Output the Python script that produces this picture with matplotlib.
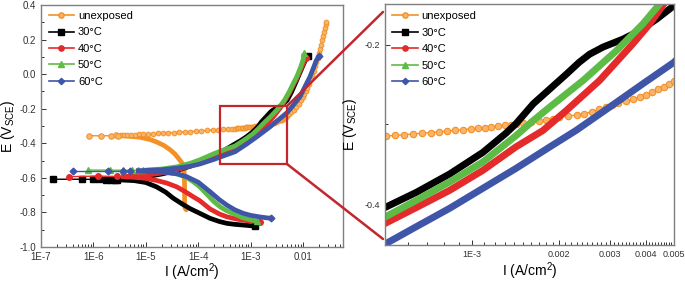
import matplotlib
matplotlib.use("Agg")
import matplotlib.pyplot as plt
from matplotlib.patches import Rectangle, ConnectionPatch
from matplotlib.lines import Line2D
from matplotlib.ticker import FixedLocator, FixedFormatter, NullFormatter, MultipleLocator

plt.rcParams['font.family'] = ['Liberation Sans', 'DejaVu Sans']

# ---------------- data ----------------
labels = ['unexposed', '30\u00b0C', '40\u00b0C', '50\u00b0C', '60\u00b0C']
colors = ['#F39126', '#000000', '#E42A2A', '#5DBB46', '#3E55A8']
markers = ['o', 's', 'o', '^', 'D']

# unexposed
un_sparse_I = [8.4e-7, 1.4e-6, 2.17e-6, 2.7e-6, 3.0e-6]
un_sparse_E = [-0.356, -0.357, -0.356, -0.354, -0.355]
un_cath_I = [3.3e-6, 4.3e-6, 7.7e-6, 1.2e-5, 1.6e-5, 2.2e-5, 2.9e-5, 3.6e-5, 4.2e-5, 4.8e-5,
             5.2e-5, 5.4e-5, 5.5e-5, 5.5e-5, 5.6e-5, 5.9e-5]
un_cath_E = [-0.355, -0.358, -0.365, -0.378, -0.392, -0.412, -0.437, -0.462, -0.487, -0.51,
             -0.53, -0.56, -0.65, -0.74, -0.775, -0.785]
un_anod_I = [3.3e-6, 3.8e-6, 4.4e-6, 5.2e-6, 6.2e-6, 7.5e-6, 9e-6, 1.1e-5, 1.35e-5, 1.7e-5,
             2.1e-5, 2.7e-5, 3.4e-5, 4.3e-5, 5.5e-5, 7e-5, 9e-5, 1.15e-4, 1.5e-4, 1.9e-4,
             2.4e-4, 3e-4, 3.7e-4, 4.4e-4,
             5.05e-4, 5.4e-4, 5.82e-4, 6.25e-4, 6.71e-4, 7.19e-4, 7.69e-4, 8.22e-4, 8.71e-4,
             9.31e-4, 9.9e-4, 1.05e-3, 1.107e-3, 1.166e-3, 1.23e-3, 1.3e-3, 1.36e-3,
             1.42e-3, 1.5e-3, 1.6e-3, 1.7e-3, 1.8e-3, 1.9e-3, 2.0e-3, 2.15e-3, 2.3e-3, 2.45e-3,
             2.6e-3, 2.75e-3, 2.9e-3, 3.05e-3, 3.2e-3, 3.4e-3, 3.6e-3, 3.8e-3, 4.0e-3, 4.2e-3,
             4.4e-3, 4.6e-3, 4.8e-3, 5.0e-3,
             5.5e-3, 6e-3, 6.7e-3, 7.5e-3, 8.3e-3, 9e-3, 9.8e-3, 1.05e-2, 1.12e-2, 1.2e-2,
             1.3e-2, 1.4e-2, 1.5e-2, 1.6e-2, 1.7e-2, 1.8e-2, 1.9e-2, 2.0e-2, 2.1e-2, 2.2e-2,
             2.3e-2, 2.4e-2, 2.5e-2, 2.6e-2, 2.7e-2, 2.75e-2]
un_anod_E = [-0.354, -0.353, -0.352, -0.351, -0.350, -0.349, -0.347, -0.346, -0.345, -0.343,
             -0.342, -0.340, -0.338, -0.336, -0.334, -0.332, -0.330, -0.328, -0.326, -0.324,
             -0.321, -0.319, -0.317, -0.316,
             -0.3145, -0.3137, -0.3128, -0.3119, -0.311, -0.3101, -0.3092, -0.3083, -0.3074,
             -0.3065, -0.3056, -0.3047, -0.3038, -0.3029, -0.302, -0.3011, -0.3002,
             -0.2995, -0.2985, -0.297, -0.2955, -0.294, -0.2925, -0.291, -0.2895, -0.288, -0.2865,
             -0.284, -0.281, -0.278, -0.2755, -0.2735, -0.271, -0.268, -0.2655, -0.263, -0.2595,
             -0.256, -0.2525, -0.249, -0.245,
             -0.233, -0.22, -0.205, -0.19, -0.17, -0.15, -0.13, -0.113, -0.095, -0.078,
             -0.055, -0.03, -0.005, 0.02, 0.045, 0.07, 0.095, 0.12, 0.145, 0.17,
             0.195, 0.22, 0.245, 0.268, 0.29, 0.303]

# 30 C
b_sparse_I = [1.67e-7, 6.1e-7, 9.7e-7, 1.3e-6, 1.72e-6, 2.17e-6, 2.58e-6, 2.86e-6]
b_sparse_E = [-0.608, -0.608, -0.609, -0.609, -0.610, -0.610, -0.611, -0.611]
b_cath_I = [3.2e-6, 6e-6, 1e-5, 1.6e-5, 2.4e-5, 3.35e-5, 5e-5, 7e-5, 1.07e-4, 1.68e-4,
            2.5e-4, 3.5e-4, 5e-4, 7.2e-4, 1e-3, 1.2e-3]
b_cath_E = [-0.612, -0.616, -0.627, -0.652, -0.683, -0.718, -0.752, -0.778, -0.805, -0.834,
            -0.852, -0.863, -0.869, -0.873, -0.877, -0.879]
b_anod_I = [3.2e-6, 6e-6, 1e-5, 2e-5, 4e-5, 7e-5, 1.07e-4, 2e-4, 3.5e-4, 5e-4, 6.42e-4,
            8.37e-4, 1.09e-3, 1.31e-3, 1.42e-3, 1.63e-3, 2.12e-3, 2.35e-3, 2.55e-3, 2.84e-3,
            3.33e-3, 3.8e-3, 4.35e-3, 5e-3, 6e-3, 7e-3, 8.5e-3, 1e-2, 1.15e-2, 1.26e-2]
b_anod_E = [-0.608, -0.602, -0.594, -0.578, -0.557, -0.533, -0.512, -0.472, -0.432, -0.404,
            -0.385, -0.362, -0.335, -0.311, -0.299, -0.274, -0.237, -0.222, -0.212, -0.203,
            -0.193, -0.1825, -0.168, -0.151, -0.105, -0.06, 0.0, 0.05, 0.09, 0.105]

# 40 C
r_sparse_I = [3.46e-7, 1.21e-6, 2.79e-6]
r_sparse_E = [-0.593, -0.590, -0.592]
r_cath_I = [3.4e-6, 6e-6, 1e-5, 1.6e-5, 2.5e-5, 3.9e-5, 6e-5, 8.1e-5, 1.07e-4, 1.68e-4,
            2.5e-4, 3.5e-4, 5e-4, 7.2e-4, 1e-3, 1.5e-3]
r_cath_E = [-0.594, -0.597, -0.603, -0.615, -0.63, -0.652, -0.685, -0.71, -0.732, -0.78,
            -0.808, -0.825, -0.836, -0.845, -0.85, -0.854]
r_anod_I = [3.4e-6, 6e-6, 1e-5, 2e-5, 5e-5, 1e-4, 2e-4, 3.5e-4, 5e-4, 6.42e-4, 8.37e-4,
            1.09e-3, 1.42e-3, 1.76e-3, 2.12e-3, 2.76e-3, 3.6e-3, 4.12e-3, 4.65e-3, 5.5e-3,
            6.5e-3, 7.6e-3, 9e-3, 1.05e-2, 1.12e-2]
r_anod_E = [-0.592, -0.589, -0.585, -0.572, -0.545, -0.515, -0.478, -0.447, -0.424, -0.404,
            -0.3825, -0.3575, -0.328, -0.3075, -0.2825, -0.245, -0.199, -0.174, -0.147, -0.11,
            -0.065, -0.025, 0.025, 0.07, 0.095]

# 50 C
g_sparse_I = [7.8e-7, 2.07e-6, 3.7e-6, 5.4e-6, 7.2e-6, 8.9e-6]
g_sparse_E = [-0.555, -0.555, -0.556, -0.556, -0.556, -0.556]
g_cath_I = [1e-5, 2e-5, 4e-5, 6e-5, 8e-5, 1.07e-4, 1.5e-4, 2e-4, 2.7e-4, 3.5e-4, 5e-4,
            7e-4, 1e-3, 1.3e-3]
g_cath_E = [-0.558, -0.563, -0.578, -0.598, -0.622, -0.652, -0.698, -0.738, -0.77, -0.79,
            -0.81, -0.83, -0.843, -0.85]
g_anod_I = [1e-5, 2e-5, 4e-5, 7e-5, 1.07e-4, 2e-4, 3.5e-4, 5e-4, 6.42e-4, 8.37e-4, 1.09e-3,
            1.42e-3, 1.63e-3, 1.86e-3, 2.42e-3, 3.16e-3, 3.9e-3, 4.46e-3, 5.5e-3, 6.5e-3,
            7.6e-3, 9e-3, 1.01e-2, 1.045e-2]
g_anod_E = [-0.555, -0.549, -0.536, -0.516, -0.496, -0.46, -0.432, -0.416, -0.395, -0.372,
            -0.347, -0.314, -0.295, -0.278, -0.245, -0.2075, -0.174, -0.149, -0.10, -0.055,
            -0.015, 0.04, 0.085, 0.12]

# 60 C
bl_sparse_I = [4e-7, 1.92e-6, 3.6e-6, 5e-6]
bl_sparse_E = [-0.560, -0.560, -0.560, -0.560]
bl_cath_I = [6.5e-6, 1e-5, 2e-5, 4e-5, 6e-5, 1e-4, 1.68e-4, 2.5e-4, 3.5e-4, 5e-4, 7.2e-4,
             1e-3, 1.5e-3, 2e-3, 2.5e-3]
bl_cath_E = [-0.561, -0.563, -0.566, -0.577, -0.593, -0.625, -0.68, -0.725, -0.757, -0.785,
             -0.805, -0.817, -0.826, -0.831, -0.834]
bl_anod_I = [6.5e-6, 1e-5, 2e-5, 4e-5, 7e-5, 1.07e-4, 2e-4, 3.5e-4, 5.05e-4, 6.42e-4, 8.37e-4,
             1.09e-3, 1.42e-3, 1.86e-3, 2.29e-3, 3.0e-3, 3.9e-3, 5e-3, 6.5e-3, 8.8e-3, 1.1e-2,
             1.36e-2, 1.6e-2, 1.8e-2, 2.05e-2]
bl_anod_E = [-0.559, -0.557, -0.553, -0.544, -0.533, -0.52, -0.493, -0.466, -0.449, -0.428,
             -0.405, -0.38, -0.355, -0.328, -0.3075, -0.278, -0.249, -0.222, -0.18, -0.13,
             -0.07, -0.015, 0.04, 0.08, 0.105]

series = [
    (un_sparse_I, un_sparse_E, un_cath_I, un_cath_E, un_anod_I, un_anod_E),
    (b_sparse_I, b_sparse_E, b_cath_I, b_cath_E, b_anod_I, b_anod_E),
    (r_sparse_I, r_sparse_E, r_cath_I, r_cath_E, r_anod_I, r_anod_E),
    (g_sparse_I, g_sparse_E, g_cath_I, g_cath_E, g_anod_I, g_anod_E),
    (bl_sparse_I, bl_sparse_E, bl_cath_I, bl_cath_E, bl_anod_I, bl_anod_E),
]

left_xticks = [1e-7, 1e-6, 1e-5, 1e-4, 1e-3, 1e-2]
left_xticklabels = ['1E-7', '1E-6', '1E-5', '1E-4', '1E-3', '0.01']
left_yticks = [0.4, 0.2, 0.0, -0.2, -0.4, -0.6, -0.8, -1.0]
left_yticklabels = ['0.4', '0.2', '0.0', '-0.2', '-0.4', '-0.6', '-0.8', '-1.0']
right_xticks = [1e-3, 2e-3, 3e-3, 4e-3, 5e-3]
right_xticklabels = ['1E-3', '0.002', '0.003', '0.004', '0.005']
right_yticks = [-0.2, -0.4]
right_yticklabels = ['-0.2', '-0.4']
zoom_box_I = [2.6e-4, 4.95e-3]
zoom_box_E = [-0.52, -0.185]

# ---------------- figure ----------------
W, H = 685, 282
fig = plt.figure(figsize=(W / 100, H / 100), dpi=100)
axL = fig.add_axes([41 / W, 1 - 247 / H, (343 - 41) / W, (247 - 5) / H])
axR = fig.add_axes([385 / W, 1 - 245 / H, (674 - 385) / W, (245 - 4) / H])

spine_col = '#7f7f7f'


def draw(ax, band_lw, ms_sparse, zoomed):
    for k, (sI, sE, cI, cE, aI, aE) in enumerate(series):
        col = colors[k]
        mk = markers[k]
        if k == 0:
            mfc = '#F8B56A'
            if zoomed:
                ax.plot(aI, aE, color=col, lw=1.0, marker='o', ms=4.6, mfc=mfc, mec=col, mew=0.8)
            else:
                ax.plot(cI, cE, color=col, lw=band_lw, solid_capstyle='round', solid_joinstyle='round')
                ax.plot(aI, aE, color=col, lw=1.0, marker='o', ms=3.4, mfc=mfc, mec=col, mew=0.7)
                ax.plot(sI, sE, color=col, lw=1.0, marker='o', ms=ms_sparse, mfc=mfc, mec=col, mew=0.7)
        else:
            ax.plot(cI, cE, color=col, lw=band_lw, solid_capstyle='butt', solid_joinstyle='round')
            ax.plot(aI, aE, color=col, lw=band_lw, solid_capstyle='butt', solid_joinstyle='round')
            if not zoomed:
                ms = ms_sparse * (0.85 if mk == 'D' else 1.0)
                ax.plot(sI, sE, color=col, lw=1.0, marker=mk, ms=ms)
                ax.plot([cI[-1]], [cE[-1]], color=col, marker=mk, ms=ms, lw=0)
                ax.plot([aI[-1]], [aE[-1]], color=col, marker=mk, ms=ms, lw=0)
    ax.set_xscale('log')
    for s in ax.spines.values():
        s.set_color(spine_col)
        s.set_linewidth(1.0)
    ax.tick_params(which='both', direction='in', colors='#333333', labelsize=7, width=0.7)
    ax.tick_params(which='major', length=3.5)
    ax.tick_params(which='minor', length=2)


draw(axL, 3.4, 4.0, False)
axL.set_xlim(1e-7, 0.058)
axL.set_ylim(-1.0, 0.4)
axL.xaxis.set_major_locator(FixedLocator(left_xticks))
axL.xaxis.set_major_formatter(FixedFormatter(left_xticklabels))
axL.xaxis.set_minor_formatter(NullFormatter())
axL.yaxis.set_major_locator(FixedLocator(left_yticks))
axL.yaxis.set_major_formatter(FixedFormatter(left_yticklabels))
axL.yaxis.set_minor_locator(MultipleLocator(0.1))
axL.set_xlabel('I (A/cm$^{\\mathregular{2}}$)', fontsize=10)
axL.set_ylabel('E (V$_{\\mathregular{SCE}}$)', fontsize=10)
axL.xaxis.set_label_coords(0.5, -0.058)
axL.yaxis.set_label_coords(-0.08, 0.5)

draw(axR, 5.0, 4.0, True)
axR.set_xlim(5e-4, 5e-3)
axR.set_ylim(-0.451, -0.149)
axR.xaxis.set_major_locator(FixedLocator(right_xticks))
axR.xaxis.set_major_formatter(FixedFormatter(right_xticklabels))
axR.xaxis.set_minor_locator(FixedLocator([6e-4, 7e-4, 8e-4, 9e-4] +
                                         [1e-3 + 1e-4 * i for i in range(1, 10)] +
                                         [2e-3 + 1e-4 * i for i in range(1, 10)] +
                                         [3e-3 + 1e-4 * i for i in range(1, 10)] +
                                         [4e-3 + 1e-4 * i for i in range(1, 10)]))
axR.xaxis.set_minor_formatter(NullFormatter())
axR.yaxis.set_major_locator(FixedLocator(right_yticks))
axR.yaxis.set_major_formatter(FixedFormatter(right_yticklabels))
axR.yaxis.set_minor_locator(MultipleLocator(0.1))
axR.tick_params(labelsize=6.5)
axR.set_xlabel('I (A/cm$^{\\mathregular{2}}$)', fontsize=10)
axR.set_ylabel('E (V$_{\\mathregular{SCE}}$)', fontsize=10)
axR.xaxis.set_label_coords(0.5, -0.065)
axR.yaxis.set_label_coords(-0.09, 0.5)

# legends
handles = []
for k in range(5):
    mfc = '#F8B56A' if k == 0 else colors[k]
    ms = 3.2 if markers[k] == 'D' else 3.8
    handles.append(Line2D([], [], color=colors[k], lw=1.2, marker=markers[k], ms=ms,
                          mfc=mfc, mec=colors[k]))
for ax, anchor in ((axL, (0.025, 0.975)), (axR, (0.025, 0.97))):
    ax.legend(handles, labels, loc='upper left', bbox_to_anchor=anchor, frameon=False,
              fontsize=8, handlelength=2.3, handletextpad=0.35, labelspacing=0.58,
              borderaxespad=0.0, borderpad=0.0)

# zoom box and connectors
box_col = '#C1272D'
axL.add_patch(Rectangle((zoom_box_I[0], zoom_box_E[0]), zoom_box_I[1] - zoom_box_I[0],
                        zoom_box_E[1] - zoom_box_E[0], fill=False, ec=box_col, lw=1.6, zorder=10))
for yb, yr in ((zoom_box_E[1], 0.967), (zoom_box_E[0], 0.025)):
    con = ConnectionPatch(xyA=(zoom_box_I[1], yb), coordsA=axL.transData,
                          xyB=(-0.007, yr), coordsB=axR.transAxes,
                          color=box_col, lw=1.8, zorder=20)
    fig.add_artist(con)

fig.savefig('out.png', dpi=100)
